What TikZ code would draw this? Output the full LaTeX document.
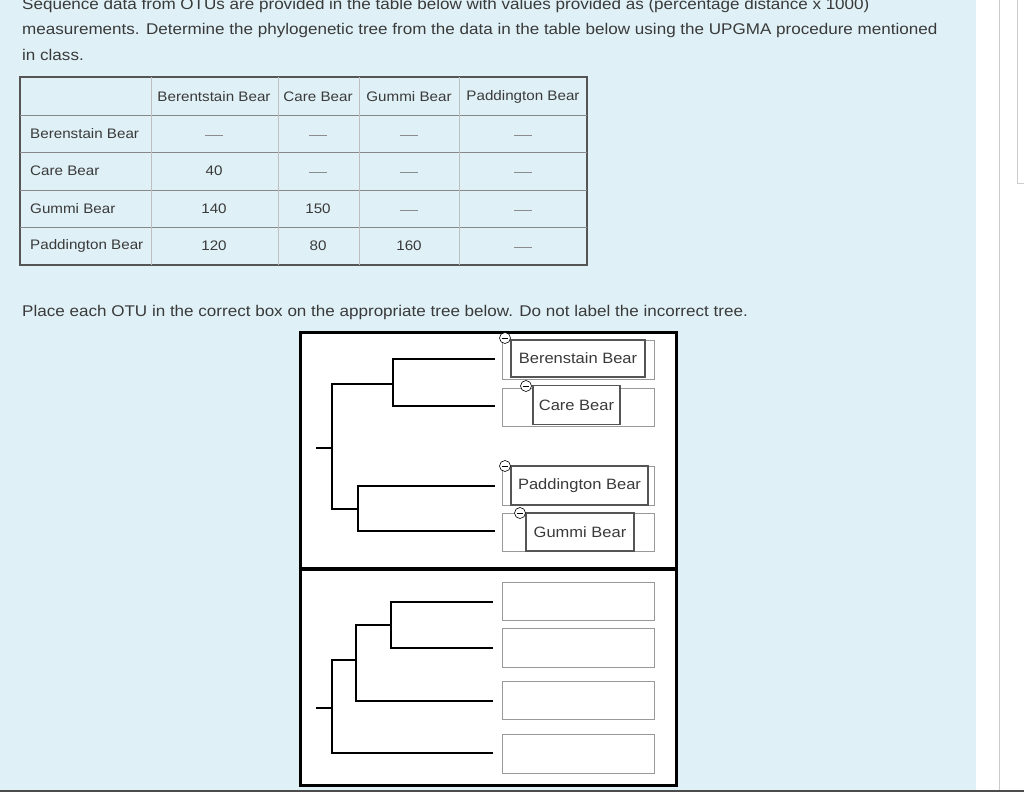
\documentclass[tikz,border=0pt]{standalone}
\usepackage{fontspec}
\setmainfont{Liberation Sans}[FakeStretch=1.1]
\definecolor{bgblue}{HTML}{DFF1F7}
\definecolor{txt}{HTML}{3A3A3A}
\definecolor{grid}{HTML}{555555}
\begin{document}
\begin{tikzpicture}[x=1pt,y=-1pt,
  para/.style={anchor=base west,inner sep=0,text=txt,font=\fontsize{15.5}{15.5}\selectfont},
  cell/.style={inner sep=0,text=txt,font=\fontsize{13.8}{13.8}\selectfont},
  branch/.style={line width=2pt,black},
  slot/.style={draw=gray!80,line width=0.8pt,fill=white},
  lab/.style={draw=grid,line width=1.5pt,fill=white,inner sep=0,text=txt,font=\fontsize{15}{15}\selectfont},
  tgt/.style={circle,draw=black,line width=0.6pt,minimum size=11pt,inner sep=0,fill=white},
  nil/.style={fill=gray!90,inner sep=0,minimum width=18pt,minimum height=0.8pt}]
\useasboundingbox (0,0) rectangle (1024,792);
\fill[bgblue] (0,0) rectangle (976,792);
\fill[white] (976,0) rectangle (1024,792);
\draw[gray!40] (999,0) -- (999,792);
\draw[gray!40] (1017,0) -- (1017,183) -- (1024,183);
\draw[black!70,line width=1.5pt] (0,791) -- (1024,791);
\node[para] (p1) at (22,10) {Sequence data from OTUs are provided in the table below with values provided as (percentage distance x 1000)};
\node[para] (p2) at (22,35) {measurements. Determine the phylogenetic tree from the data in the table below using the UPGMA procedure mentioned};
\node[para] (p3) at (22,60) {in class.};
\draw[grid,line width=1.2pt] (20,77) rectangle (587,265);
\foreach \y in {115,152,190,227} \draw[grid!70,line width=1pt] (20,\y) -- (587,\y);
\foreach \x in {151,278,359,459} \draw[gray!50,line width=0.6pt] (\x,77) -- (\x,265);
\node[cell] (h1) at (214,97) {Berentstain Bear};
\node[cell] (h2) at (318,97) {Care Bear};
\node[cell] (h3) at (409,97) {Gummi Bear};
\node[cell] (h4) at (523,97) {Paddington Bear};
\node[cell,anchor=west] (r1) at (30,134) {Berenstain Bear};
\node[cell,anchor=west] (r2) at (30,171) {Care Bear};
\node[cell,anchor=west] (r3) at (30,209) {Gummi Bear};
\node[cell,anchor=west] (r4) at (30,246) {Paddington Bear};
\node[cell] (c21) at (214,171) {40};
\node[cell] (c31) at (214,209) {140};
\node[cell] (c32) at (318,209) {150};
\node[cell] (c41) at (214,246) {120};
\node[cell] (c42) at (318,246) {80};
\node[cell] (c43) at (409,246) {160};
\node[nil] (d11) at (214,135) {};
\node[nil] (d12) at (318,135) {};
\node[nil] (d13) at (409,135) {};
\node[nil] (d14) at (523,135) {};
\node[nil] (d22) at (318,172) {};
\node[nil] (d23) at (409,172) {};
\node[nil] (d24) at (523,172) {};
\node[nil] (d33) at (409,210) {};
\node[nil] (d34) at (523,210) {};
\node[nil] (d44) at (523,247) {};
\node[para] (p4) at (22,316) {Place each OTU in the correct box on the appropriate tree below. Do not label the incorrect tree.};
\fill[white] (300,332) rectangle (676,785);
\draw[black,line width=3pt] (300,332) rectangle (676,785);
\draw[black,line width=3.5pt] (300,569) -- (676,569);
\draw[branch] (316,448) -- (332,448);
\draw[branch] (332,384) -- (393,384);
\draw[branch] (332,509) -- (358,509);
\draw[branch] (332,383) -- (332,510);
\draw[branch] (393,358) -- (393,407);
\draw[branch] (358,485) -- (358,532);
\draw[branch] (392,359) -- (495,359);
\draw[branch] (392,406) -- (495,406);
\draw[branch] (357,486) -- (495,486);
\draw[branch] (357,531) -- (495,531);
\foreach \a/\b in {340/379,388/426,466/505,513/551}
  \draw[slot] (502,\a) rectangle (654,\b);
\node[lab,minimum width=134pt,minimum height=37pt] (bb) at (578,358.5) {Berenstain Bear};
\node[lab,minimum width=87pt,minimum height=39pt] (cb) at (576.5,405) {Care Bear};
\node[lab,minimum width=137pt,minimum height=39pt] (pb) at (579.5,485.5) {Paddington Bear};
\node[lab,minimum width=108pt,minimum height=38pt] (gb) at (580,532) {Gummi Bear};
\node[tgt] (t1) at (505,338) {};
\node[tgt] (t2) at (526,386) {};
\node[tgt] (t3) at (505,466) {};
\node[tgt] (t4) at (520,513) {};
\foreach \n in {t1,t2,t3,t4}
  \draw[line width=0.5pt] (\n.west) ++(2.5,0) -- ++(6,0);
\draw[branch] (316,708) -- (332,708);
\draw[branch] (332,659) -- (332,754);
\draw[branch] (332,660) -- (356,660);
\draw[branch] (356,624) -- (356,702);
\draw[branch] (356,625) -- (391,625);
\draw[branch] (391,601) -- (391,649);
\draw[branch] (390,602) -- (493,602);
\draw[branch] (390,648) -- (493,648);
\draw[branch] (355,701) -- (493,701);
\draw[branch] (331,753) -- (493,753);
\foreach \a/\b in {582/620,628/667,681/719,734/773}
  \draw[slot] (502,\a) rectangle (654,\b);
\end{tikzpicture}
\end{document}
